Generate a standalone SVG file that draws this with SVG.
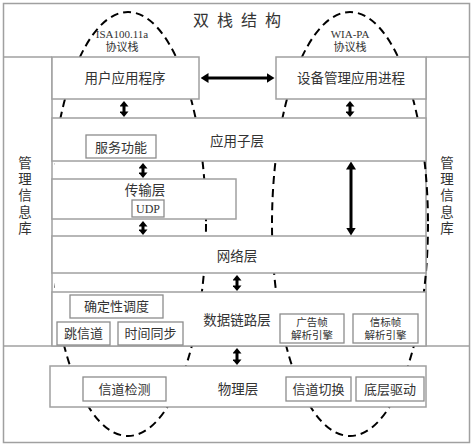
<svg xmlns="http://www.w3.org/2000/svg" width="474" height="445" viewBox="0 0 474 445">
<style>
.frame{fill:none;stroke:#a0a0a0;stroke-width:1.5}
.layer{fill:#fff;stroke:#a0a0a0;stroke-width:1.5}
.box{fill:#fff;stroke:#8c8c8c;stroke-width:1.3}
.ell{fill:none;stroke:#000;stroke-width:2;stroke-dasharray:8 5}
.t{font-family:"Liberation Serif","Noto Sans CJK SC",serif;fill:#333;text-anchor:middle}
.t14{font-size:13.5px}
.t13{font-size:13px}
.t11{font-size:11px}
.t10{font-size:10.5px}
.arr{stroke:#000;stroke-width:3;fill:none;marker-start:url(#ah);marker-end:url(#ah)}
.arrs{stroke:#000;stroke-width:3;fill:none;marker-start:url(#ahs);marker-end:url(#ahs)}
</style>
<defs>
<marker id="ah" markerUnits="userSpaceOnUse" markerWidth="8" markerHeight="10" refX="0.5" refY="5" orient="auto-start-reverse" viewBox="0 0 8 10">
<path d="M0,0 L8,5 L0,10 z" fill="#000"/>
</marker>
<marker id="ahs" markerUnits="userSpaceOnUse" markerWidth="6" markerHeight="9" refX="0.5" refY="5" orient="auto-start-reverse" viewBox="0 0 6 10">
<path d="M0,0 L6,5 L0,10 z" fill="#000"/>
</marker>
<clipPath id="clipL"><rect x="54" y="0" width="420" height="445"/></clipPath>
</defs>
<rect x="0" y="0" width="474" height="445" fill="#fff"/>
<g id="frame">
<rect class="frame" x="3.5" y="3.5" width="466" height="439"/>
<line class="frame" x1="3" y1="57" x2="52" y2="57"/>
<line class="frame" x1="426" y1="57" x2="470" y2="57"/>
<line class="frame" x1="52" y1="57" x2="52" y2="346"/>
<line class="frame" x1="426" y1="57" x2="426" y2="346"/>
<line class="frame" x1="3" y1="346" x2="470" y2="346"/>
</g>
<g id="stacks">
<ellipse class="ell" cx="128" cy="224" rx="78" ry="212" clip-path="url(#clipL)"/>
<ellipse class="ell" cx="350" cy="224" rx="78" ry="212"/>
<text class="t t11" x="122" y="38">ISA100.11a</text>
<text class="t t11" x="122" y="51">协议栈</text>
<text class="t t11" x="350" y="38">WIA-PA</text>
<text class="t t11" x="350" y="51">协议栈</text>
</g>
<text class="t" x="241" y="26" font-size="16" letter-spacing="8">双栈结构</text>
<g id="mib-left">
<text class="t t14" x="25" y="168">管</text>
<text class="t t14" x="25" y="184">理</text>
<text class="t t14" x="25" y="200">信</text>
<text class="t t14" x="25" y="217">息</text>
<text class="t t14" x="25" y="233">库</text>
</g>
<g id="mib-right">
<text class="t t14" x="447" y="168">管</text>
<text class="t t14" x="447" y="184">理</text>
<text class="t t14" x="447" y="200">信</text>
<text class="t t14" x="447" y="217">息</text>
<text class="t t14" x="447" y="233">库</text>
</g>
<g id="user-app">
<rect class="layer" x="52" y="57" width="147" height="42"/>
<text class="t t14" x="125" y="83">用户应用程序</text>
</g>
<g id="device-app">
<rect class="layer" x="276" y="57" width="150" height="42"/>
<text class="t t14" x="351" y="83">设备管理应用进程</text>
</g>
<g id="app-sublayer">
<rect class="layer" x="52" y="118" width="374" height="43"/>
<text class="t t14" x="237" y="146">应用子层</text>
<rect class="box" x="86" y="135" width="70" height="23"/>
<text class="t t13" x="121" y="151.5">服务功能</text>
</g>
<g id="transport">
<rect class="layer" x="52" y="179" width="184" height="40"/>
<text class="t t14" x="145" y="195">传输层</text>
<rect class="box" x="132" y="200" width="32" height="17"/>
<text class="t" font-size="12" x="148" y="213">UDP</text>
</g>
<g id="network">
<rect class="layer" x="52" y="236" width="374" height="37"/>
<text class="t t14" x="237" y="261">网络层</text>
</g>
<g id="datalink">
<rect class="layer" x="52" y="292" width="374" height="54"/>
<text class="t t14" x="237" y="325">数据链路层</text>
<rect class="box" x="70" y="295" width="93" height="23"/>
<text class="t t13" x="116.5" y="311">确定性调度</text>
<rect class="box" x="57" y="322" width="53" height="23"/>
<text class="t t13" x="83.5" y="338">跳信道</text>
<rect class="box" x="118" y="322" width="65" height="23"/>
<text class="t t13" x="150.5" y="338">时间同步</text>
<rect class="box" x="280" y="314" width="64" height="29"/>
<text class="t t10" x="312" y="326">广告帧</text>
<text class="t t10" x="312" y="339">解析引擎</text>
<rect class="box" x="353" y="314" width="65" height="29"/>
<text class="t t10" x="385.5" y="326">信标帧</text>
<text class="t t10" x="385.5" y="339">解析引擎</text>
</g>
<g id="physical">
<rect class="layer" x="50" y="366" width="376" height="41"/>
<text class="t t14" x="238" y="394">物理层</text>
<rect class="box" x="83" y="377" width="83" height="24"/>
<text class="t t13" x="124.5" y="394">信道检测</text>
<rect class="box" x="286" y="377" width="65" height="24"/>
<text class="t t13" x="318.5" y="394">信道切换</text>
<rect class="box" x="356" y="377" width="68" height="24"/>
<text class="t t13" x="390" y="394">底层驱动</text>
</g>
<g id="connectors">
<line class="arr" x1="208" y1="78" x2="267" y2="78"/>
<line class="arrs" x1="124" y1="106" x2="124" y2="112"/>
<line class="arrs" x1="350" y1="106" x2="350" y2="112"/>
<line class="arrs" x1="143" y1="168" x2="143" y2="173"/>
<line class="arrs" x1="143" y1="226" x2="143" y2="230"/>
<line class="arr" x1="351" y1="169" x2="351" y2="228"/>
<line class="arrs" x1="237" y1="280" x2="237" y2="286"/>
<line class="arrs" x1="237" y1="353" x2="237" y2="360"/>
</g>
</svg>
